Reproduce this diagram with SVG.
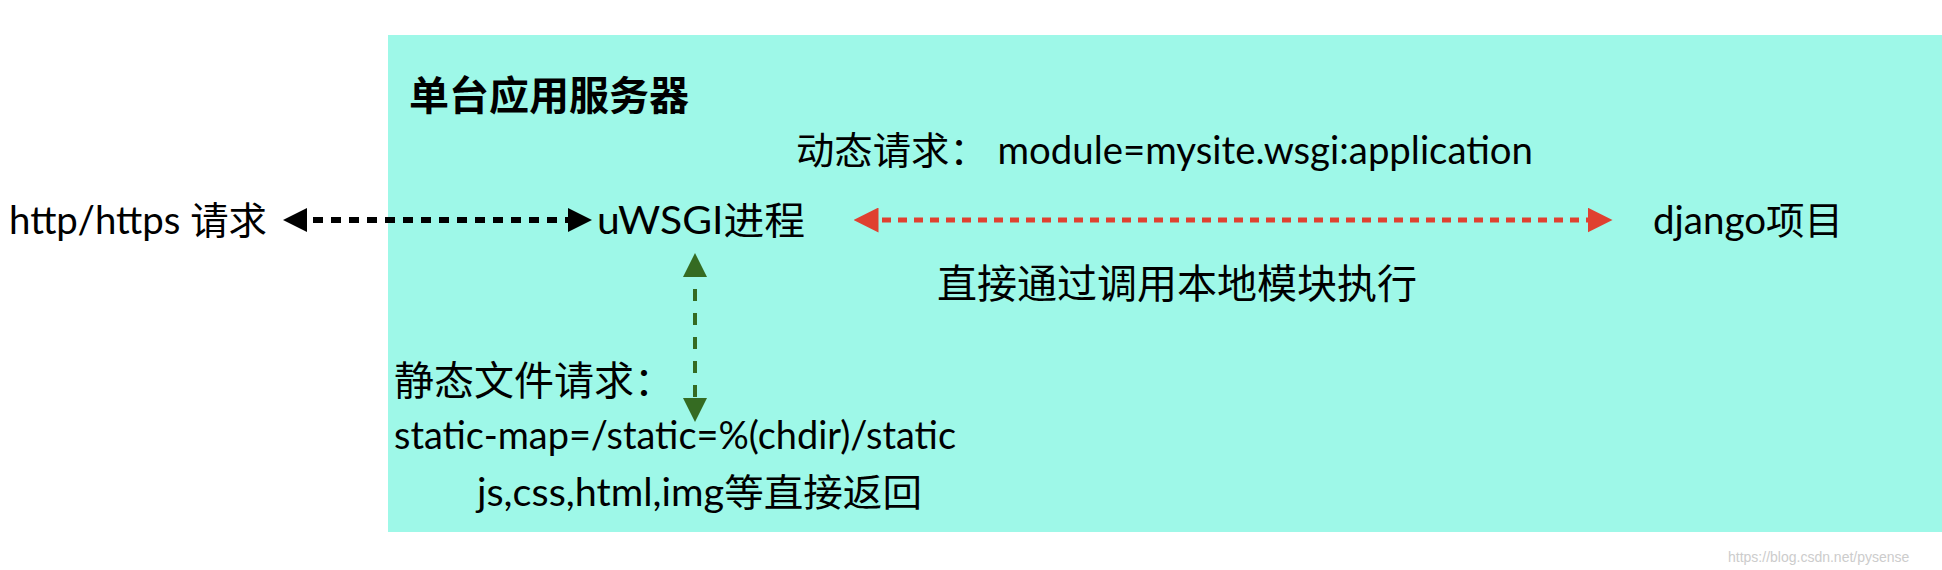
<svg xmlns="http://www.w3.org/2000/svg" width="1942" height="570" viewBox="0 0 1942 570">
<style>
text{font-family:Lato,"Noto Sans CJK SC",sans-serif;font-size:38px;fill:#000}
.b{font-weight:bold;font-size:40px}
.c{font-size:40px}
</style>
<defs>
<marker id="ak" markerWidth="4" markerHeight="4" refX="2" refY="2" orient="auto-start-reverse" markerUnits="strokeWidth"><path d="M0,0L4,2L0,4Z" fill="#000"/></marker>
<marker id="ar" markerWidth="5" markerHeight="5" refX="2.5" refY="2.5" orient="auto-start-reverse" markerUnits="strokeWidth"><path d="M0,0L5,2.5L0,5Z" fill="#e04030"/></marker>
<marker id="ag" markerWidth="6" markerHeight="6" refX="3" refY="3" orient="auto-start-reverse" markerUnits="strokeWidth"><path d="M0,0L6,3L0,6Z" fill="#356b22"/></marker>
</defs>
<rect x="388" y="35" width="1554" height="497" fill="#9ef8e8"/>
<g id="server"><text class="b" x="409" y="110">单台应用服务器</text></g>
<g id="dyn"><text x="796" y="164" textLength="737" lengthAdjust="spacingAndGlyphs">动态请求： module=mysite.wsgi:application</text></g>
<g id="client"><text x="9" y="234" textLength="258" lengthAdjust="spacingAndGlyphs">http/https 请求</text></g>
<g id="uwsgi"><text x="597" y="234" textLength="208" lengthAdjust="spacingAndGlyphs">uWSGI进程</text></g>
<g id="django"><text x="1653" y="234" textLength="190" lengthAdjust="spacingAndGlyphs">django项目</text></g>
<g id="local"><text class="c" x="937" y="298">直接通过调用本地模块执行</text></g>
<g id="static"><text class="c" x="394" y="395">静态文件请求：</text>
<text x="394" y="449" textLength="562" lengthAdjust="spacingAndGlyphs">static-map=/static=%(chdir)/static</text>
<text x="477" y="506" textLength="445" lengthAdjust="spacingAndGlyphs">js,css,html,img等直接返回</text></g>
<g id="connectors" fill="none">
<line x1="295" y1="220" x2="580" y2="220" stroke="#000" stroke-width="6" stroke-dasharray="10 8" marker-start="url(#ak)" marker-end="url(#ak)"/>
<line x1="866" y1="220" x2="1600" y2="220" stroke="#e04030" stroke-width="5" stroke-dasharray="9 7" marker-start="url(#ar)" marker-end="url(#ar)"/>
<line x1="695" y1="265" x2="695" y2="410" stroke="#356b22" stroke-width="4" stroke-dasharray="12 12" marker-start="url(#ag)" marker-end="url(#ag)"/>
</g>
<text x="1728" y="562" style="font-size:14px;fill:#ccc;font-family:'Liberation Sans',sans-serif">https://blog.csdn.net/pysense</text>
</svg>
